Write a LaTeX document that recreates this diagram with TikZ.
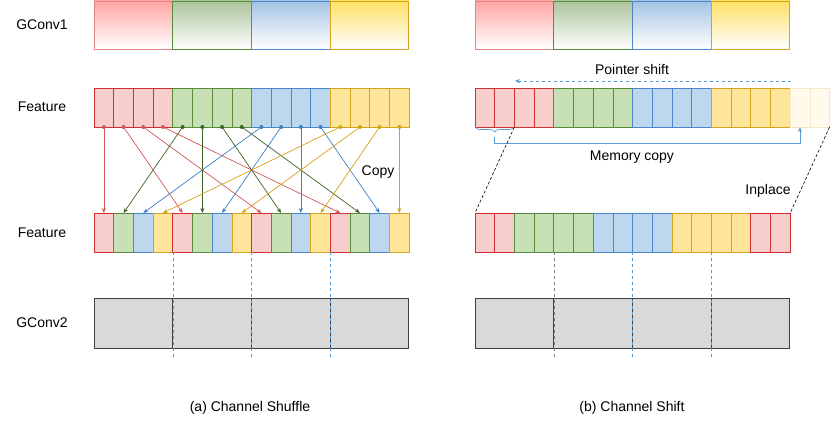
\documentclass[tikz,border=0pt]{standalone}
\usepackage{fontspec}
\setmainfont{Liberation Sans}
\usetikzlibrary{arrows.meta,decorations.pathreplacing,calc}
\definecolor{rS}{HTML}{D03030}\definecolor{rF}{HTML}{F8CECC}
\definecolor{gS}{HTML}{5A8A3C}\definecolor{gF}{HTML}{C8E0B6}
\definecolor{bS}{HTML}{4A86C8}\definecolor{bF}{HTML}{BDD7EE}
\definecolor{yS}{HTML}{D6A520}\definecolor{yF}{HTML}{FFE599}
\definecolor{rA}{HTML}{D05858}\definecolor{gA}{HTML}{3A6425}
\definecolor{bA}{HTML}{3A80C8}\definecolor{yA}{HTML}{D4A017}
\definecolor{dsh}{HTML}{5B9BD5}
\begin{document}
\begin{tikzpicture}[x=1pt,y=-1pt,font=\fontsize{14}{16}\selectfont,
 cell/.style={draw,minimum width=19.7pt,minimum height=39pt,inner sep=0pt,outer sep=0pt,line width=0.8pt,anchor=north west},
 c0/.style={cell,draw=rS,fill=rF},c1/.style={cell,draw=gS,fill=gF},
 c2/.style={cell,draw=bS,fill=bF},c3/.style={cell,draw=yS,fill=yF},
 ghost/.style={cell,draw=yS!25,fill=yF!20},
 big/.style={draw,minimum width=78.7pt,minimum height=48pt,inner sep=0pt,outer sep=0pt,line width=0.8pt,anchor=north west},
 g0/.style={big,draw=rS!60,top color=red!35,bottom color=white},
 g1/.style={big,draw=gS,top color=gS!50,bottom color=white},
 g2/.style={big,draw=bS,top color=bS!50,bottom color=white},
 g3/.style={big,draw=yS,top color=yellow!60!orange!60,bottom color=white},
 gr/.style={big,draw=black!75,fill=black!15,minimum height=50pt},
 ar/.style={-{Stealth[length=5pt,width=4pt]},line width=0.7pt},
 dl/.style={dashed,dsh,line width=0.6pt},
 lab/.style={anchor=center}]
\useasboundingbox (0,0) rectangle (830,430);
% labels
\node[lab] (t1) at (42,25) {GConv1};
\node[lab] (t2) at (42,107) {Feature};
\node[lab] (t3) at (42,233) {Feature};
\node[lab] (t4) at (42,323) {GConv2};
% GConv1 / GConv2
\foreach \s/\k in {L/94,R/475}{
 \foreach \i in {0,...,3}{
  \node[g\i] (\s g\i) at ({\k+\i*78.7},1) {};
  \node[gr] (\s h\i) at ({\k+\i*78.7},298) {};
 }}
% left top feature
\foreach \i in {0,...,15}{
 \pgfmathtruncatemacro\g{int(\i/4)}
 \node[c\g] (La\i) at ({94+\i*19.7},88) {};
 \pgfmathtruncatemacro\h{mod(\i,4)}
 \node[c\h] (Lb\i) at ({94+\i*19.7},213) {};
}
% shuffle arrows
\foreach \i in {0,...,15}{
 \pgfmathtruncatemacro\g{int(\i/4)}
 \pgfmathtruncatemacro\k{mod(\i,4)}
 \pgfmathtruncatemacro\j{\k*4+\g}
 \ifcase\g \def\col{rA}\or\def\col{gA}\or\def\col{bA}\or\def\col{yA}\fi
 \fill[\col] (La\i.south) circle (2pt);
 \draw[ar,\col] (La\i.south) -- (Lb\j.north);
}
\node (cp) at (378,172) {Copy};
% dashed left
\foreach \i in {4,8,12}{
 \coordinate (Le\i) at ($(Lb\i.south west)+(0,106)$);
 \draw[dl] (Lb\i.south west) -- (Le\i);
}
% right top feature
\foreach \i in {0,...,15}{
 \pgfmathtruncatemacro\g{int(\i/4)}
 \node[c\g] (Ra\i) at ({475+\i*19.7},88) {};
}
\node[ghost] (Ra16) at ({475+16*19.7},88) {};
\node[ghost] (Ra17) at ({475+17*19.7},88) {};
% right bottom feature
\foreach \i/\c in {0/0,1/0,2/1,3/1,4/1,5/1,6/2,7/2,8/2,9/2,10/3,11/3,12/3,13/3,14/0,15/0}{
 \node[c\c] (Rb\i) at ({475+\i*19.7},213) {};
}
\foreach \i/\cc in {3/black!50,7/dsh,11/dsh}{
 \coordinate (Re\i) at ($(Rb\i.south east)+(0,106)$);
 \draw[dashed,\cc,line width=0.6pt] (Rb\i.south east) -- (Re\i);
}
% pointer shift
\coordinate (ps1) at (791,81); \coordinate (ps2) at (515,81);
\draw[dl,-{Stealth[length=5pt,width=4pt]}] (ps1) -- (ps2);
\node (pst) at (632,69) {Pointer shift};
% memory copy
\draw[dsh,line width=0.7pt,decorate,decoration={brace,mirror,amplitude=5pt}] (Ra0.south west) -- (Ra1.south east);
\coordinate (mc1) at (494,143); \coordinate (mc2) at (800,143);
\draw[dsh,line width=0.7pt,-{Stealth[length=5pt,width=4pt]}] (494,137) -- (mc1) -- (mc2) -- (Ra16.south -| mc2);
\node (mct) at (632,157) {Memory copy};
% inplace
\draw[densely dashed,black,line width=0.6pt] (Ra1.south east) -- (Rb0.north west);
\draw[densely dashed,black,line width=0.6pt] (Ra17.south east) -- (Rb15.north east);
\node (ip) at (768,191) {Inplace};
% captions
\node (ca) at (250,408) {(a) Channel Shuffle};
\node (cb) at (632,408) {(b) Channel Shift};
\end{tikzpicture}
\end{document}
